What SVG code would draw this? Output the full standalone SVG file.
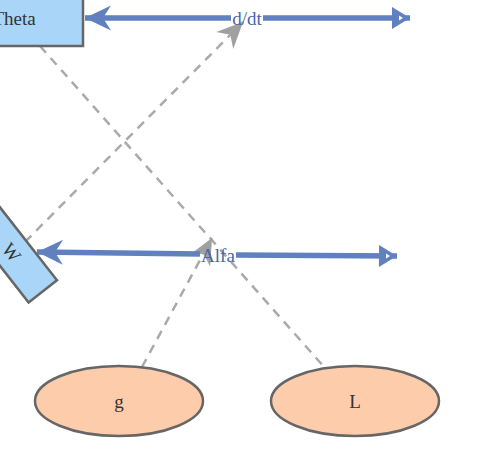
<svg xmlns="http://www.w3.org/2000/svg" width="501" height="451" viewBox="0 0 501 451">
<style>
.box{fill:#a8d5f8;stroke:#666;stroke-width:2.5}
.ell{fill:#fdcdab;stroke:#666;stroke-width:2.5}
.lbl{font-family:"Liberation Serif",serif;font-size:19px;fill:#333;text-anchor:middle}
.elbl{font-family:"Liberation Serif",serif;font-size:19px;fill:#4b66a8;text-anchor:middle}
.blue{stroke:#6080bf;stroke-width:5.5;fill:none}
.dash{stroke:#aaa;stroke-width:2.5;stroke-dasharray:9,7;fill:none}
</style>
<defs>
<marker id="bstart" markerUnits="userSpaceOnUse" markerWidth="30" markerHeight="30" viewBox="-2 -14 30 28" refX="0" refY="0" orient="auto">
<path d="M0,0 L26,-12.5 L18,0 L26,12.5 z" fill="#6080bf"/>
</marker>
<marker id="bend" markerUnits="userSpaceOnUse" markerWidth="24" markerHeight="26" viewBox="-20 -13 22 26" refX="0" refY="0" orient="auto">
<path d="M0,0 L-18,-11 L-18,11 z" fill="#6080bf"/>
<path d="M-7,0 L-11,-2.5 L-11,2.5 z" fill="#fff"/>
</marker>
<marker id="gend" markerUnits="userSpaceOnUse" markerWidth="30" markerHeight="30" viewBox="-28 -15 30 30" refX="0" refY="0" orient="auto">
<path d="M0,0 L-26,-12 L-18,0 L-26,12 z" fill="#a0a0a0"/>
</marker>
</defs>
<g id="connectors">
<line class="dash" x1="40" y1="46" x2="325" y2="368"/>
<line class="dash" x1="25" y1="242" x2="243" y2="22" marker-end="url(#gend)"/>
<line class="dash" x1="142" y1="367" x2="212" y2="238" marker-end="url(#gend)"/>
<line class="blue" x1="85" y1="18" x2="231" y2="18" marker-start="url(#bstart)"/>
<line class="blue" x1="263" y1="18" x2="410" y2="18" marker-end="url(#bend)"/>
<text class="elbl" x="247" y="25">d/dt</text>
<line class="blue" x1="37" y1="252" x2="200" y2="254" marker-start="url(#bstart)"/>
<line class="blue" x1="236" y1="255" x2="397" y2="256" marker-end="url(#bend)"/>
<text class="elbl" x="218" y="262">Alfa</text>
</g>
<g id="Theta">
<rect class="box" x="-51" y="-8" width="134" height="54"/>
<text class="lbl" x="14" y="25">Theta</text>
</g>
<g id="W">
<g transform="translate(12,252) rotate(52)">
<rect class="box" x="-50" y="-18" width="100" height="36"/>
<text class="lbl" x="0" y="7">W</text>
</g>
</g>
<g id="g">
<ellipse class="ell" cx="119" cy="401" rx="84" ry="35"/>
<text class="lbl" x="119" y="408">g</text>
</g>
<g id="L">
<ellipse class="ell" cx="355" cy="401" rx="84" ry="35"/>
<text class="lbl" x="355" y="408">L</text>
</g>
</svg>
